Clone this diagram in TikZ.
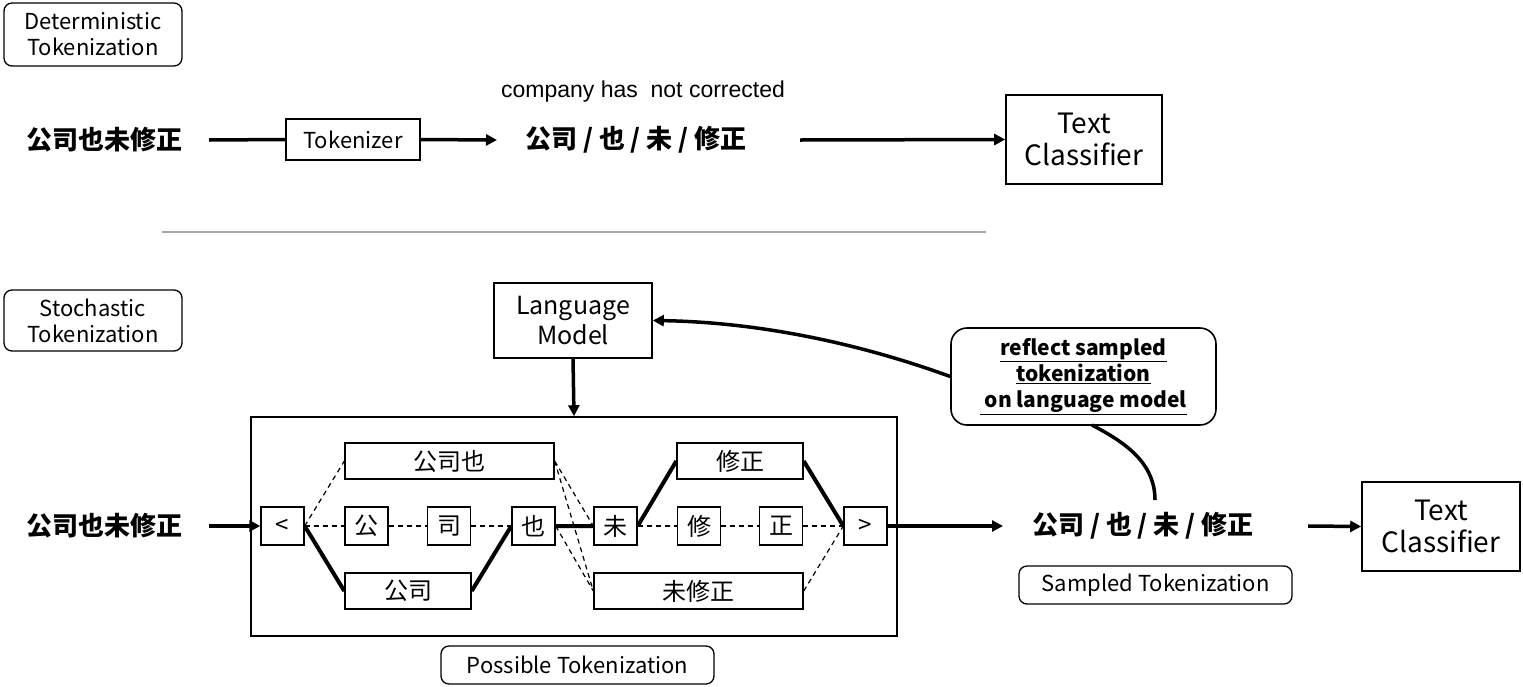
\documentclass[tikz,border=0pt]{standalone}
\usepackage{fontspec}
\setmainfont{Noto Sans CJK JP}
\newfontfamily\arl{Liberation Sans}
\usetikzlibrary{arrows.meta}
\begin{document}
\begin{tikzpicture}[x=1pt,y=-1pt,
  lbl/.style={draw,line width=1.3pt,rounded corners=8pt,font=\fontsize{22}{26}\selectfont,align=center,inner sep=0pt},
  bx/.style={draw,line width=1.6pt,font=\fontsize{28}{32}\selectfont,align=center,inner sep=0pt},
  tk/.style={draw,line width=1.4pt,font=\fontsize{24}{26}\selectfont,inner sep=0pt},
  big/.style={font=\fontsize{26}{28}\selectfont\bfseries},
  arr/.style={line width=3.5pt,-{Triangle[length=11pt,width=11pt]}},
  th/.style={line width=4pt},
  ds/.style={dashed,line width=1.2pt,dash pattern=on 5pt off 4pt}]
\useasboundingbox (0,0) rectangle (1523,686);
% top
\node[lbl,minimum width=178,minimum height=63] (det) at (93,34.5) {Deterministic\\Tokenization};
\node[big] (in1) at (104,140) {公司也未修正};
\node[draw,line width=1.4pt,font=\fontsize{22}{24}\selectfont,minimum width=134,minimum height=41,inner sep=0pt] (tok) at (353,139.5) {Tokenizer};
\node[big] (out1) at (636,140) {公司 / 也 / 未 / 修正};
\node[font=\arl\fontsize{23}{25}\selectfont] (eng) at (643,92) {company has\ \ not corrected};
\node[bx,minimum width=156,minimum height=89] (tc1) at (1084,139.5) {Text\\Classifier};
\draw[line width=3.5pt] (209,140) -- (tok.west);
\draw[arr] (tok.east) -- (497,140);
\draw[arr] (800,140) -- (tc1.west);
\draw[gray!70,line width=1.5pt] (162,232) -- (986,232);
% bottom
\node[lbl,minimum width=178,minimum height=61] (sto) at (93,320.5) {Stochastic\\Tokenization};
\node[bx,font=\fontsize{25}{30}\selectfont,minimum width=158,minimum height=75] (lm) at (573,320.5) {Language\\Model};
\node[draw,line width=1.6pt,minimum width=646,minimum height=219,inner sep=0pt] (lat) at (574,526.5) {};
\node[big] (in2) at (104,526) {公司也未修正};
\foreach \n/\t/\x in {lt/{<}/282.5, a/公/366.5, b/司/449, c/也/533.5, d/未/615.5, e/修/699, f/正/781, gt/{>}/865.5}
  \node[tk,minimum width=43,minimum height=38] (\n) at (\x,526) {\t};
\node[tk,minimum width=209,minimum height=36] (abc) at (449.5,461) {公司也};
\node[tk,minimum width=126,minimum height=36] (ab) at (408,591) {公司};
\node[tk,minimum width=126,minimum height=36] (ef) at (740,461) {修正};
\node[tk,minimum width=209,minimum height=36] (def) at (698.5,591) {未修正};
\draw[ds] (lt.east) -- (a.west) (a.east) -- (b.west) (b.east) -- (c.west)
  (d.east) -- (e.west) (e.east) -- (f.west) (f.east) -- (gt.west);
\draw[ds] (lt.east) -- (abc.west) (abc.east) -- (d.west) (abc.east) -- (def.west)
  (c.east) -- (def.west) (def.east) -- (gt.west);
\draw[th] (lt.east) -- (ab.west) (ab.east) -- (c.west) (c.east) -- (d.west)
  (d.east) -- (ef.west) (ef.east) -- (gt.west);
\node[lbl,minimum width=273,minimum height=38] (pos) at (577.5,665) {Possible Tokenization};
\node[big] (out2) at (1143,526) {公司 / 也 / 未 / 修正};
\node[lbl,minimum width=273,minimum height=38] (smp) at (1155.5,585) {Sampled Tokenization};
\node[bx,minimum width=158,minimum height=89] (tc2) at (1441,526.5) {Text\\Classifier};
\node[draw,line width=1.6pt,rounded corners=16pt,minimum width=265,minimum height=97,inner sep=0pt,align=center,font=\fontsize{21}{26}\selectfont\bfseries] (ref) at (1083.5,376.5) {\underline{reflect sampled}\\\underline{tokenization}\\\underline{\ on language model}};
\coordinate (cs) at (1155,500);
\draw[arr] (lm.south) -- (lat.north);
\draw[arr] (209,526) -- (lt.west);
\draw[arr] (gt.east) -- (1003,526);
\draw[arr] (1308,526) -- (tc2.west);
\draw[line width=3.5pt] (cs) .. controls (1155,460) and (1120,440) .. (1092,425);
\draw[arr] (ref.west) .. controls (850,340) and (750,322) .. (lm.east);
\end{tikzpicture}
\end{document}
